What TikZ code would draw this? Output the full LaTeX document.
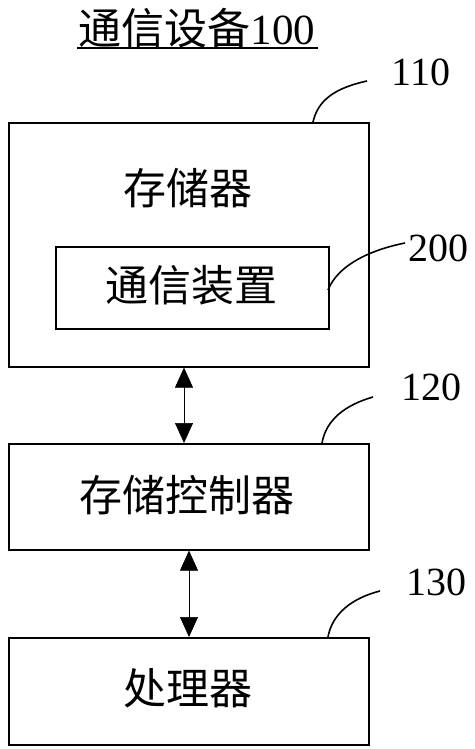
\documentclass[tikz,border=0pt]{standalone}
\usepackage{fontspec}
\setmainfont{Liberation Serif}
\newfontfamily\cjk{Noto Sans CJK SC}
\usetikzlibrary{arrows.meta}
\begin{document}
\begin{tikzpicture}[x=1pt,y=-1pt,
  box/.style={draw,line width=1.6pt,inner sep=0pt,anchor=north west},
  num/.style={font=\fontsize{40}{40}\selectfont,inner sep=0pt},
  ttl/.style={font=\fontsize{43}{43}\selectfont,inner sep=0pt},
  txt/.style={font=\fontsize{43}{43}\selectfont\cjk,inner sep=0pt},
  lead/.style={line width=1.6pt},
  dbl/.style={line width=0.7pt,{Triangle[width=18pt,length=20pt]}-{Triangle[width=18pt,length=20pt]}}]
\useasboundingbox (0,0) rectangle (474,749);
% title
\node[ttl] (title) at (197,28) {{\cjk 通信设备}100};
\coordinate (ula) at (77,48);
\coordinate (ulb) at (318,48);
\draw[line width=1.2pt] (ula) -- (ulb);
% boxes
\node[box,minimum width=360pt,minimum height=244pt] (b1) at (8,122) {};
\node[box,minimum width=273pt,minimum height=82pt] (b200) at (55,246) {};
\node[box,minimum width=360pt,minimum height=106pt] (b2) at (8,443) {};
\node[box,minimum width=360pt,minimum height=107pt] (b3) at (8,637) {};
% texts
\node[txt] (t1) at (188,188) {存储器};
\node[txt] (t200) at (191,285) {通信装置};
\node[txt] (t2) at (187,495) {存储控制器};
\node[txt] (t3) at (188,688) {处理器};
% labels
\node[num] (n110) at (421,72) {110};
\node[num] (n200) at (438,248) {200};
\node[num] (n120) at (431,387) {120};
\node[num] (n130) at (436,582) {130};
% leaders
\coordinate (l110a) at (313,122);
\coordinate (l110b) at (367,81);
\coordinate (l200a) at (328,290);
\coordinate (l200b) at (405,243);
\coordinate (l120a) at (322,443);
\coordinate (l120b) at (373,397);
\coordinate (l130a) at (328,637);
\coordinate (l130b) at (380,591);
\draw[lead] (l110a) .. controls (318,100) and (335,88) .. (l110b);
\draw[lead] (l200a) .. controls (338,265) and (370,250) .. (l200b);
\draw[lead] (l120a) .. controls (326,420) and (345,405) .. (l120b);
\draw[lead] (l130a) .. controls (332,614) and (352,598) .. (l130b);
% arrows
\draw[dbl] (b1.south west -| 184,0) -- (b2.north west -| 184,0);
\draw[dbl] (b2.south west -| 189,0) -- (b3.north west -| 189,0);
\end{tikzpicture}
\end{document}
